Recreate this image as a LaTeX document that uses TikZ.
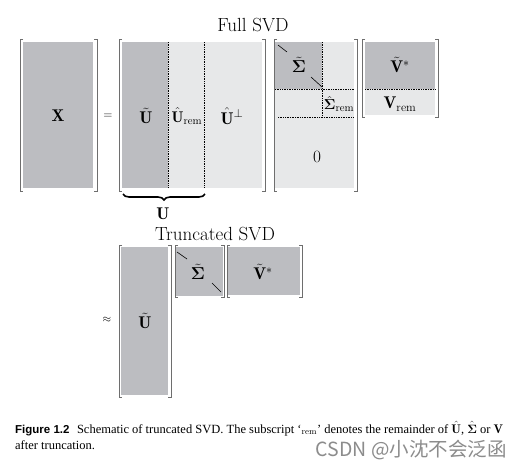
\documentclass[tikz,border=0pt]{standalone}
\usepackage{amsmath,bm}
\usepackage{fontspec}
\newfontfamily\capfont{Liberation Serif}
\newfontfamily\figfont{Liberation Sans}
\newfontfamily\cjk{Noto Sans CJK SC}
\usetikzlibrary{decorations.pathreplacing}
\definecolor{dk}{RGB}{188,189,193}
\definecolor{lt}{RGB}{231,232,233}
\definecolor{brc}{RGB}{110,110,110}
\newcommand\mylb[3]{\draw[brkst] (#1+3,#2) -- (#1,#2) -- (#1,#3) -- (#1+3,#3);}
\newcommand\myrb[3]{\draw[brkst] (#1-3,#2) -- (#1,#2) -- (#1,#3) -- (#1-3,#3);}
\begin{document}
\begin{tikzpicture}[x=1pt,y=-1pt,
  lab/.style={inner sep=0pt,font=\fontsize{17}{17}\selectfont},
  slab/.style={inner sep=0pt,font=\fontsize{15.5}{15.5}\selectfont},
  brkst/.style={draw=brc,line width=0.6pt},
  dots/.style={densely dotted,line width=0.7pt,black},
  diag/.style={line width=0.6pt,black},
  ttl/.style={font=\fontsize{19}{19}\selectfont,inner sep=0pt}]
\fill[white] (0,0) rectangle (522,466);
\useasboundingbox (0,0) rectangle (522,466);

% titles
\node[ttl] (full) at (253,25) {Full SVD};
\node[ttl] (trunc) at (215,234) {Truncated SVD};

% X
\fill[dk] (23,42) rectangle (93,188);
\node[lab] (X) at (58,116) {$\mathbf{X}$};
\mylb{20}{39}{191}\myrb{97}{39}{191}
\node[inner sep=0pt,font=\fontsize{12}{12}\selectfont] (eq) at (108,116) {$=$};

% U full
\fill[dk] (122,42) rectangle (168,188);
\fill[lt] (168,42) rectangle (262,188);
\node[lab] (Ut) at (146,116) {$\tilde{\mathbf{U}}$};
\node[slab] (Ur) at (187,116) {$\hat{\mathbf{U}}_{\mathrm{rem}}$};
\node[lab] (Up) at (232,116) {$\hat{\mathbf{U}}^{\perp}$};
\draw[dots] (168,42) -- (168,188);
\draw[dots] (204,42) -- (204,188);
\mylb{119}{39}{191}\myrb{265}{39}{191}

% brace
\coordinate (bl) at (123,194);
\coordinate (br) at (205,194);
\draw[decorate,decoration={brace,mirror,amplitude=6pt},line width=1.6pt] (bl) -- (br);
\node[lab] (Ulab) at (163,214) {$\mathbf{U}$};

% Sigma full
\fill[lt] (275,42) rectangle (354,188);
\fill[dk] (275,42) rectangle (322,89);
\node[lab] (St) at (299,65) {$\tilde{\boldsymbol{\Sigma}}$};
\node[slab] (Sr) at (339,104) {$\hat{\boldsymbol{\Sigma}}_{\mathrm{rem}}$};
\node[lab] (zero) at (317,157) {$0$};
\draw[dots] (322,42) -- (322,117);
\draw[dots] (275,89) -- (354,89);
\draw[dots] (278,117) -- (354,117);
\draw[diag] (278,45) -- (287,52);
\draw[diag] (311,77) -- (322,87);
\mylb{274}{39}{191}\myrb{357}{39}{191}

% V full
\fill[lt] (365,42) rectangle (435,115);
\fill[dk] (365,42) rectangle (435,89);
\node[lab] (Vt) at (400,65) {$\tilde{\mathbf{V}}^{*}$};
\node[lab] (Vr) at (400,104) {$\mathbf{V}_{\mathrm{rem}}$};
\draw[dots] (365,89) -- (435,89);
\mylb{362}{39}{117}\myrb{438}{39}{117}

% truncated
\node[inner sep=0pt,font=\fontsize{11}{11}\selectfont] (approx) at (107,320) {$\approx$};
\fill[dk] (121,247) rectangle (168,395);
\node[lab] (Ut2) at (145,321) {$\tilde{\mathbf{U}}$};
\mylb{119}{245}{397}\myrb{171}{245}{397}
\fill[dk] (176,247) rectangle (223,296);
\node[lab] (St2) at (198,272) {$\tilde{\boldsymbol{\Sigma}}$};
\draw[diag] (177,252) -- (187,259);
\draw[diag] (212,283) -- (221,292);
\mylb{175}{245}{297}\myrb{224}{245}{297}
\fill[dk] (228,247) rectangle (300,295);
\node[lab] (Vt2) at (263,272) {$\tilde{\mathbf{V}}^{*}$};
\mylb{227}{245}{297}\myrb{302}{245}{297}

% caption
\node[anchor=base west,inner sep=0pt,font=\capfont\fontsize{12.5}{12.5}\selectfont] (cap1) at (15,433)
 {{\figfont\bfseries\fontsize{11.5}{12}\selectfont Figure 1.2}\hspace{0.6em}Schematic of truncated SVD. The subscript ‘$_{\mathrm{rem}}$’ denotes the remainder of $\hat{\mathbf{U}}$, $\hat{\boldsymbol{\Sigma}}$ or $\mathbf{V}$};
\node[anchor=base west,inner sep=0pt,font=\capfont\fontsize{12.5}{12.5}\selectfont] (cap2) at (15,449) {after truncation.};
\node[anchor=base east,inner sep=0pt,text=black!45,font=\cjk\fontsize{19.5}{19.5}\selectfont] (wm) at (507,456) {CSDN @小沈不会泛函};
\end{tikzpicture}
\end{document}
